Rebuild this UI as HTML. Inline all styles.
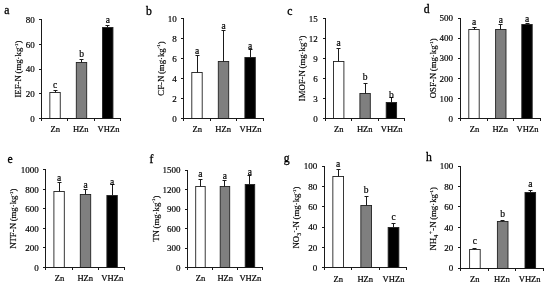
<!DOCTYPE html>
<html><head><meta charset="utf-8"><title>Figure</title>
<style>
html,body{margin:0;padding:0;background:#fff;}
svg{display:block;font-family:"Liberation Serif","DejaVu Serif",serif;fill:#000;}
text{stroke:#000;stroke-width:0.18px;}
</style></head><body>
<svg width="550" height="286" viewBox="0 0 550 286">
<rect x="0" y="0" width="550" height="286" fill="#fff"/>
<text x="4.30" y="14.00" font-size="11.7" text-anchor="start" style="stroke-width:0.3px">a</text>
<rect x="49.85" y="92.50" width="10.40" height="26.00" fill="#ffffff" stroke="#222" stroke-width="0.9"/>
<line x1="55.50" y1="92.50" x2="55.50" y2="91.00" stroke="#1a1a1a" stroke-width="1.0"/>
<line x1="53.50" y1="90.50" x2="57.50" y2="90.50" stroke="#1a1a1a" stroke-width="1.0"/>
<text x="55.05" y="88.19" font-size="9.5" text-anchor="middle" >c</text>
<text x="55.20" y="132.20" font-size="8.6" text-anchor="middle" >Zn</text>
<rect x="76.30" y="62.50" width="10.40" height="56.00" fill="#7f7f7f" stroke="#222" stroke-width="0.9"/>
<line x1="81.50" y1="62.50" x2="81.50" y2="60.00" stroke="#1a1a1a" stroke-width="1.0"/>
<line x1="79.50" y1="59.50" x2="83.50" y2="59.50" stroke="#1a1a1a" stroke-width="1.0"/>
<text x="81.50" y="56.64" font-size="9.5" text-anchor="middle" >b</text>
<text x="80.80" y="132.20" font-size="8.6" text-anchor="middle" >HZn</text>
<rect x="102.55" y="27.50" width="10.40" height="91.00" fill="#000000" stroke="#222" stroke-width="0.9"/>
<line x1="107.50" y1="27.50" x2="107.50" y2="26.00" stroke="#1a1a1a" stroke-width="1.0"/>
<line x1="105.50" y1="25.50" x2="109.50" y2="25.50" stroke="#1a1a1a" stroke-width="1.0"/>
<text x="107.75" y="22.70" font-size="9.5" text-anchor="middle" >a</text>
<text x="108.50" y="132.20" font-size="8.6" text-anchor="middle" >VHZn</text>
<line x1="41.50" y1="19.00" x2="41.50" y2="121.00" stroke="#1a1a1a" stroke-width="1.0"/>
<line x1="39.00" y1="118.50" x2="121.00" y2="118.50" stroke="#1a1a1a" stroke-width="1.0"/>
<line x1="41.50" y1="118.50" x2="41.50" y2="121.00" stroke="#1a1a1a" stroke-width="1.0"/>
<line x1="67.50" y1="118.50" x2="67.50" y2="121.00" stroke="#1a1a1a" stroke-width="1.0"/>
<line x1="94.50" y1="118.50" x2="94.50" y2="121.00" stroke="#1a1a1a" stroke-width="1.0"/>
<line x1="120.50" y1="118.50" x2="120.50" y2="121.00" stroke="#1a1a1a" stroke-width="1.0"/>
<line x1="39.00" y1="118.50" x2="41.50" y2="118.50" stroke="#1a1a1a" stroke-width="1.0"/>
<text x="34.70" y="121.70" font-size="9" text-anchor="end" >0</text>
<line x1="39.00" y1="93.50" x2="41.50" y2="93.50" stroke="#1a1a1a" stroke-width="1.0"/>
<text x="34.70" y="97.00" font-size="9" text-anchor="end" >20</text>
<line x1="39.00" y1="69.50" x2="41.50" y2="69.50" stroke="#1a1a1a" stroke-width="1.0"/>
<text x="34.70" y="72.30" font-size="9" text-anchor="end" >40</text>
<line x1="39.00" y1="44.50" x2="41.50" y2="44.50" stroke="#1a1a1a" stroke-width="1.0"/>
<text x="34.70" y="47.60" font-size="9" text-anchor="end" >60</text>
<line x1="39.00" y1="19.50" x2="41.50" y2="19.50" stroke="#1a1a1a" stroke-width="1.0"/>
<text x="34.70" y="22.90" font-size="9" text-anchor="end" >80</text>
<text x="21.10" y="69.10" font-size="8.75" text-anchor="middle" word-spacing="-0.5" transform="rotate(-90 21.10 69.10)">IEF-N (mg·kg<tspan dy="-3.4" font-size="5">-1</tspan><tspan dy="3.4">)</tspan></text>
<text x="146.00" y="14.60" font-size="11.7" text-anchor="start" style="stroke-width:0.3px">b</text>
<rect x="191.80" y="72.50" width="10.40" height="46.00" fill="#ffffff" stroke="#222" stroke-width="0.9"/>
<line x1="197.50" y1="72.50" x2="197.50" y2="55.00" stroke="#1a1a1a" stroke-width="1.0"/>
<line x1="195.50" y1="55.50" x2="199.50" y2="55.50" stroke="#1a1a1a" stroke-width="1.0"/>
<text x="197.00" y="54.34" font-size="9.5" text-anchor="middle" >a</text>
<text x="197.20" y="132.20" font-size="8.6" text-anchor="middle" >Zn</text>
<rect x="218.30" y="61.50" width="10.40" height="57.00" fill="#7f7f7f" stroke="#222" stroke-width="0.9"/>
<line x1="223.50" y1="61.50" x2="223.50" y2="30.00" stroke="#1a1a1a" stroke-width="1.0"/>
<line x1="221.50" y1="30.50" x2="225.50" y2="30.50" stroke="#1a1a1a" stroke-width="1.0"/>
<text x="223.50" y="29.01" font-size="9.5" text-anchor="middle" >a</text>
<text x="223.20" y="132.20" font-size="8.6" text-anchor="middle" >HZn</text>
<rect x="244.90" y="57.50" width="10.40" height="61.00" fill="#000000" stroke="#222" stroke-width="0.9"/>
<line x1="250.50" y1="57.50" x2="250.50" y2="50.00" stroke="#1a1a1a" stroke-width="1.0"/>
<line x1="248.50" y1="49.50" x2="252.50" y2="49.50" stroke="#1a1a1a" stroke-width="1.0"/>
<text x="250.10" y="49.23" font-size="9.5" text-anchor="middle" >a</text>
<text x="250.50" y="132.20" font-size="8.6" text-anchor="middle" >VHZn</text>
<line x1="183.50" y1="18.00" x2="183.50" y2="121.00" stroke="#1a1a1a" stroke-width="1.0"/>
<line x1="181.00" y1="118.50" x2="264.00" y2="118.50" stroke="#1a1a1a" stroke-width="1.0"/>
<line x1="183.50" y1="118.50" x2="183.50" y2="121.00" stroke="#1a1a1a" stroke-width="1.0"/>
<line x1="210.50" y1="118.50" x2="210.50" y2="121.00" stroke="#1a1a1a" stroke-width="1.0"/>
<line x1="236.50" y1="118.50" x2="236.50" y2="121.00" stroke="#1a1a1a" stroke-width="1.0"/>
<line x1="263.50" y1="118.50" x2="263.50" y2="121.00" stroke="#1a1a1a" stroke-width="1.0"/>
<line x1="181.00" y1="118.50" x2="183.50" y2="118.50" stroke="#1a1a1a" stroke-width="1.0"/>
<text x="176.80" y="121.70" font-size="9" text-anchor="end" >0</text>
<line x1="181.00" y1="98.50" x2="183.50" y2="98.50" stroke="#1a1a1a" stroke-width="1.0"/>
<text x="176.80" y="101.68" font-size="9" text-anchor="end" >2</text>
<line x1="181.00" y1="78.50" x2="183.50" y2="78.50" stroke="#1a1a1a" stroke-width="1.0"/>
<text x="176.80" y="81.66" font-size="9" text-anchor="end" >4</text>
<line x1="181.00" y1="58.50" x2="183.50" y2="58.50" stroke="#1a1a1a" stroke-width="1.0"/>
<text x="176.80" y="61.64" font-size="9" text-anchor="end" >6</text>
<line x1="181.00" y1="38.50" x2="183.50" y2="38.50" stroke="#1a1a1a" stroke-width="1.0"/>
<text x="176.80" y="41.62" font-size="9" text-anchor="end" >8</text>
<line x1="181.00" y1="18.50" x2="183.50" y2="18.50" stroke="#1a1a1a" stroke-width="1.0"/>
<text x="176.80" y="21.60" font-size="9" text-anchor="end" >10</text>
<text x="163.80" y="68.45" font-size="8.75" text-anchor="middle" word-spacing="-0.5" transform="rotate(-90 163.80 68.45)">CF-N (mg·kg<tspan dy="-3.4" font-size="5">-1</tspan><tspan dy="3.4">)</tspan></text>
<text x="287.30" y="14.70" font-size="11.7" text-anchor="start" style="stroke-width:0.3px">c</text>
<rect x="333.50" y="61.50" width="10.40" height="57.00" fill="#ffffff" stroke="#222" stroke-width="0.9"/>
<line x1="338.50" y1="61.50" x2="338.50" y2="48.00" stroke="#1a1a1a" stroke-width="1.0"/>
<line x1="336.50" y1="48.50" x2="340.50" y2="48.50" stroke="#1a1a1a" stroke-width="1.0"/>
<text x="338.70" y="46.03" font-size="9.5" text-anchor="middle" >a</text>
<text x="338.70" y="132.20" font-size="8.6" text-anchor="middle" >Zn</text>
<rect x="359.90" y="93.50" width="10.40" height="25.00" fill="#7f7f7f" stroke="#222" stroke-width="0.9"/>
<line x1="365.50" y1="93.50" x2="365.50" y2="83.00" stroke="#1a1a1a" stroke-width="1.0"/>
<line x1="363.50" y1="83.50" x2="367.50" y2="83.50" stroke="#1a1a1a" stroke-width="1.0"/>
<text x="365.10" y="79.86" font-size="9.5" text-anchor="middle" >b</text>
<text x="364.80" y="132.20" font-size="8.6" text-anchor="middle" >HZn</text>
<rect x="386.20" y="102.50" width="10.40" height="16.00" fill="#000000" stroke="#222" stroke-width="0.9"/>
<line x1="391.50" y1="102.50" x2="391.50" y2="98.00" stroke="#1a1a1a" stroke-width="1.0"/>
<line x1="389.50" y1="97.50" x2="393.50" y2="97.50" stroke="#1a1a1a" stroke-width="1.0"/>
<text x="391.40" y="97.71" font-size="9.5" text-anchor="middle" >b</text>
<text x="391.70" y="132.20" font-size="8.6" text-anchor="middle" >VHZn</text>
<line x1="325.50" y1="18.00" x2="325.50" y2="121.00" stroke="#1a1a1a" stroke-width="1.0"/>
<line x1="323.00" y1="118.50" x2="405.00" y2="118.50" stroke="#1a1a1a" stroke-width="1.0"/>
<line x1="325.50" y1="118.50" x2="325.50" y2="121.00" stroke="#1a1a1a" stroke-width="1.0"/>
<line x1="351.50" y1="118.50" x2="351.50" y2="121.00" stroke="#1a1a1a" stroke-width="1.0"/>
<line x1="378.50" y1="118.50" x2="378.50" y2="121.00" stroke="#1a1a1a" stroke-width="1.0"/>
<line x1="404.50" y1="118.50" x2="404.50" y2="121.00" stroke="#1a1a1a" stroke-width="1.0"/>
<line x1="323.00" y1="118.50" x2="325.50" y2="118.50" stroke="#1a1a1a" stroke-width="1.0"/>
<text x="317.70" y="121.70" font-size="9" text-anchor="end" >0</text>
<line x1="323.00" y1="98.50" x2="325.50" y2="98.50" stroke="#1a1a1a" stroke-width="1.0"/>
<text x="317.70" y="101.68" font-size="9" text-anchor="end" >3</text>
<line x1="323.00" y1="78.50" x2="325.50" y2="78.50" stroke="#1a1a1a" stroke-width="1.0"/>
<text x="317.70" y="81.66" font-size="9" text-anchor="end" >6</text>
<line x1="323.00" y1="58.50" x2="325.50" y2="58.50" stroke="#1a1a1a" stroke-width="1.0"/>
<text x="317.70" y="61.64" font-size="9" text-anchor="end" >9</text>
<line x1="323.00" y1="38.50" x2="325.50" y2="38.50" stroke="#1a1a1a" stroke-width="1.0"/>
<text x="317.70" y="41.62" font-size="9" text-anchor="end" >12</text>
<line x1="323.00" y1="18.50" x2="325.50" y2="18.50" stroke="#1a1a1a" stroke-width="1.0"/>
<text x="317.70" y="21.60" font-size="9" text-anchor="end" >15</text>
<text x="305.50" y="68.45" font-size="8.75" text-anchor="middle" word-spacing="-0.5" transform="rotate(-90 305.50 68.45)">IMOF-N (mg·kg<tspan dy="-3.4" font-size="5">-1</tspan><tspan dy="3.4">)</tspan></text>
<text x="423.80" y="12.50" font-size="11.7" text-anchor="start" style="stroke-width:0.3px">d</text>
<rect x="468.80" y="29.50" width="10.40" height="89.00" fill="#ffffff" stroke="#222" stroke-width="0.9"/>
<line x1="474.50" y1="29.50" x2="474.50" y2="28.00" stroke="#1a1a1a" stroke-width="1.0"/>
<line x1="472.50" y1="27.50" x2="476.50" y2="27.50" stroke="#1a1a1a" stroke-width="1.0"/>
<text x="474.00" y="25.34" font-size="9.5" text-anchor="middle" >a</text>
<text x="474.50" y="132.20" font-size="8.6" text-anchor="middle" >Zn</text>
<rect x="495.60" y="29.50" width="10.40" height="89.00" fill="#7f7f7f" stroke="#222" stroke-width="0.9"/>
<line x1="500.50" y1="29.50" x2="500.50" y2="25.00" stroke="#1a1a1a" stroke-width="1.0"/>
<line x1="498.50" y1="24.50" x2="502.50" y2="24.50" stroke="#1a1a1a" stroke-width="1.0"/>
<text x="500.80" y="22.53" font-size="9.5" text-anchor="middle" >a</text>
<text x="500.30" y="132.20" font-size="8.6" text-anchor="middle" >HZn</text>
<rect x="521.80" y="24.50" width="10.40" height="94.00" fill="#000000" stroke="#222" stroke-width="0.9"/>
<line x1="527.50" y1="24.50" x2="527.50" y2="23.00" stroke="#1a1a1a" stroke-width="1.0"/>
<line x1="525.50" y1="23.50" x2="529.50" y2="23.50" stroke="#1a1a1a" stroke-width="1.0"/>
<text x="527.00" y="21.52" font-size="9.5" text-anchor="middle" >a</text>
<text x="527.50" y="132.20" font-size="8.6" text-anchor="middle" >VHZn</text>
<line x1="460.50" y1="18.00" x2="460.50" y2="121.00" stroke="#1a1a1a" stroke-width="1.0"/>
<line x1="458.00" y1="118.50" x2="541.00" y2="118.50" stroke="#1a1a1a" stroke-width="1.0"/>
<line x1="460.50" y1="118.50" x2="460.50" y2="121.00" stroke="#1a1a1a" stroke-width="1.0"/>
<line x1="487.50" y1="118.50" x2="487.50" y2="121.00" stroke="#1a1a1a" stroke-width="1.0"/>
<line x1="513.50" y1="118.50" x2="513.50" y2="121.00" stroke="#1a1a1a" stroke-width="1.0"/>
<line x1="540.50" y1="118.50" x2="540.50" y2="121.00" stroke="#1a1a1a" stroke-width="1.0"/>
<line x1="458.00" y1="118.50" x2="460.50" y2="118.50" stroke="#1a1a1a" stroke-width="1.0"/>
<text x="453.00" y="121.70" font-size="9" text-anchor="end" >0</text>
<line x1="458.00" y1="98.50" x2="460.50" y2="98.50" stroke="#1a1a1a" stroke-width="1.0"/>
<text x="453.00" y="101.62" font-size="9" text-anchor="end" >100</text>
<line x1="458.00" y1="78.50" x2="460.50" y2="78.50" stroke="#1a1a1a" stroke-width="1.0"/>
<text x="453.00" y="81.54" font-size="9" text-anchor="end" >200</text>
<line x1="458.00" y1="58.50" x2="460.50" y2="58.50" stroke="#1a1a1a" stroke-width="1.0"/>
<text x="453.00" y="61.46" font-size="9" text-anchor="end" >300</text>
<line x1="458.00" y1="38.50" x2="460.50" y2="38.50" stroke="#1a1a1a" stroke-width="1.0"/>
<text x="453.00" y="41.38" font-size="9" text-anchor="end" >400</text>
<line x1="458.00" y1="18.50" x2="460.50" y2="18.50" stroke="#1a1a1a" stroke-width="1.0"/>
<text x="453.00" y="21.30" font-size="9" text-anchor="end" >500</text>
<text x="436.20" y="68.30" font-size="8.75" text-anchor="middle" word-spacing="-0.5" transform="rotate(-90 436.20 68.30)">OSF-N (mg·kg<tspan dy="-3.4" font-size="5">-1</tspan><tspan dy="3.4">)</tspan></text>
<text x="7.40" y="162.50" font-size="11.7" text-anchor="start" style="stroke-width:0.3px">e</text>
<rect x="53.90" y="191.50" width="10.40" height="76.00" fill="#ffffff" stroke="#222" stroke-width="0.9"/>
<line x1="59.50" y1="191.50" x2="59.50" y2="183.00" stroke="#1a1a1a" stroke-width="1.0"/>
<line x1="57.50" y1="182.50" x2="61.50" y2="182.50" stroke="#1a1a1a" stroke-width="1.0"/>
<text x="59.10" y="180.80" font-size="9.5" text-anchor="middle" >a</text>
<text x="59.50" y="281.20" font-size="8.6" text-anchor="middle" >Zn</text>
<rect x="80.30" y="194.50" width="10.40" height="73.00" fill="#7f7f7f" stroke="#222" stroke-width="0.9"/>
<line x1="85.50" y1="194.50" x2="85.50" y2="189.00" stroke="#1a1a1a" stroke-width="1.0"/>
<line x1="83.50" y1="189.50" x2="87.50" y2="189.50" stroke="#1a1a1a" stroke-width="1.0"/>
<text x="85.50" y="188.04" font-size="9.5" text-anchor="middle" >a</text>
<text x="85.30" y="281.20" font-size="8.6" text-anchor="middle" >HZn</text>
<rect x="106.90" y="195.50" width="10.40" height="72.00" fill="#000000" stroke="#222" stroke-width="0.9"/>
<line x1="112.50" y1="195.50" x2="112.50" y2="185.00" stroke="#1a1a1a" stroke-width="1.0"/>
<line x1="110.50" y1="184.50" x2="114.50" y2="184.50" stroke="#1a1a1a" stroke-width="1.0"/>
<text x="112.10" y="184.65" font-size="9.5" text-anchor="middle" >a</text>
<text x="112.30" y="281.20" font-size="8.6" text-anchor="middle" >VHZn</text>
<line x1="45.50" y1="169.00" x2="45.50" y2="270.00" stroke="#1a1a1a" stroke-width="1.0"/>
<line x1="43.00" y1="267.50" x2="125.00" y2="267.50" stroke="#1a1a1a" stroke-width="1.0"/>
<line x1="45.50" y1="267.50" x2="45.50" y2="270.00" stroke="#1a1a1a" stroke-width="1.0"/>
<line x1="72.50" y1="267.50" x2="72.50" y2="270.00" stroke="#1a1a1a" stroke-width="1.0"/>
<line x1="98.50" y1="267.50" x2="98.50" y2="270.00" stroke="#1a1a1a" stroke-width="1.0"/>
<line x1="124.50" y1="267.50" x2="124.50" y2="270.00" stroke="#1a1a1a" stroke-width="1.0"/>
<line x1="43.00" y1="267.50" x2="45.50" y2="267.50" stroke="#1a1a1a" stroke-width="1.0"/>
<text x="38.70" y="270.70" font-size="9" text-anchor="end" >0</text>
<line x1="43.00" y1="247.50" x2="45.50" y2="247.50" stroke="#1a1a1a" stroke-width="1.0"/>
<text x="38.70" y="251.16" font-size="9" text-anchor="end" >200</text>
<line x1="43.00" y1="228.50" x2="45.50" y2="228.50" stroke="#1a1a1a" stroke-width="1.0"/>
<text x="38.70" y="231.62" font-size="9" text-anchor="end" >400</text>
<line x1="43.00" y1="208.50" x2="45.50" y2="208.50" stroke="#1a1a1a" stroke-width="1.0"/>
<text x="38.70" y="212.08" font-size="9" text-anchor="end" >600</text>
<line x1="43.00" y1="189.50" x2="45.50" y2="189.50" stroke="#1a1a1a" stroke-width="1.0"/>
<text x="38.70" y="192.54" font-size="9" text-anchor="end" >800</text>
<line x1="43.00" y1="169.50" x2="45.50" y2="169.50" stroke="#1a1a1a" stroke-width="1.0"/>
<text x="38.70" y="173.00" font-size="9" text-anchor="end" >1000</text>
<text x="16.40" y="218.65" font-size="8.75" text-anchor="middle" word-spacing="-0.5" transform="rotate(-90 16.40 218.65)">NTF-N (mg·kg<tspan dy="-3.4" font-size="5">-1</tspan><tspan dy="3.4">)</tspan></text>
<text x="149.50" y="162.70" font-size="11.7" text-anchor="start" style="stroke-width:0.3px">f</text>
<rect x="195.70" y="186.50" width="9.50" height="81.00" fill="#ffffff" stroke="#222" stroke-width="0.9"/>
<line x1="200.50" y1="186.50" x2="200.50" y2="180.00" stroke="#1a1a1a" stroke-width="1.0"/>
<line x1="198.50" y1="179.50" x2="202.50" y2="179.50" stroke="#1a1a1a" stroke-width="1.0"/>
<text x="200.45" y="177.16" font-size="9.5" text-anchor="middle" >a</text>
<text x="200.60" y="281.20" font-size="8.6" text-anchor="middle" >Zn</text>
<rect x="220.20" y="186.50" width="9.50" height="81.00" fill="#7f7f7f" stroke="#222" stroke-width="0.9"/>
<line x1="224.50" y1="186.50" x2="224.50" y2="181.00" stroke="#1a1a1a" stroke-width="1.0"/>
<line x1="222.50" y1="180.50" x2="226.50" y2="180.50" stroke="#1a1a1a" stroke-width="1.0"/>
<text x="224.95" y="178.83" font-size="9.5" text-anchor="middle" >a</text>
<text x="225.30" y="281.20" font-size="8.6" text-anchor="middle" >HZn</text>
<rect x="245.20" y="184.50" width="9.50" height="83.00" fill="#000000" stroke="#222" stroke-width="0.9"/>
<line x1="249.50" y1="184.50" x2="249.50" y2="176.00" stroke="#1a1a1a" stroke-width="1.0"/>
<line x1="247.50" y1="175.50" x2="251.50" y2="175.50" stroke="#1a1a1a" stroke-width="1.0"/>
<text x="249.95" y="174.69" font-size="9.5" text-anchor="middle" >a</text>
<text x="250.40" y="281.20" font-size="8.6" text-anchor="middle" >VHZn</text>
<line x1="187.50" y1="170.00" x2="187.50" y2="270.00" stroke="#1a1a1a" stroke-width="1.0"/>
<line x1="185.00" y1="267.50" x2="263.00" y2="267.50" stroke="#1a1a1a" stroke-width="1.0"/>
<line x1="187.50" y1="267.50" x2="187.50" y2="270.00" stroke="#1a1a1a" stroke-width="1.0"/>
<line x1="212.50" y1="267.50" x2="212.50" y2="270.00" stroke="#1a1a1a" stroke-width="1.0"/>
<line x1="237.50" y1="267.50" x2="237.50" y2="270.00" stroke="#1a1a1a" stroke-width="1.0"/>
<line x1="262.50" y1="267.50" x2="262.50" y2="270.00" stroke="#1a1a1a" stroke-width="1.0"/>
<line x1="185.00" y1="267.50" x2="187.50" y2="267.50" stroke="#1a1a1a" stroke-width="1.0"/>
<text x="180.60" y="270.70" font-size="9" text-anchor="end" >0</text>
<line x1="185.00" y1="248.50" x2="187.50" y2="248.50" stroke="#1a1a1a" stroke-width="1.0"/>
<text x="180.60" y="251.20" font-size="9" text-anchor="end" >300</text>
<line x1="185.00" y1="228.50" x2="187.50" y2="228.50" stroke="#1a1a1a" stroke-width="1.0"/>
<text x="180.60" y="231.70" font-size="9" text-anchor="end" >600</text>
<line x1="185.00" y1="209.50" x2="187.50" y2="209.50" stroke="#1a1a1a" stroke-width="1.0"/>
<text x="180.60" y="212.20" font-size="9" text-anchor="end" >900</text>
<line x1="185.00" y1="189.50" x2="187.50" y2="189.50" stroke="#1a1a1a" stroke-width="1.0"/>
<text x="180.60" y="192.70" font-size="9" text-anchor="end" >1200</text>
<line x1="185.00" y1="170.50" x2="187.50" y2="170.50" stroke="#1a1a1a" stroke-width="1.0"/>
<text x="180.60" y="173.20" font-size="9" text-anchor="end" >1500</text>
<text x="158.50" y="218.75" font-size="8.75" text-anchor="middle" word-spacing="-0.5" transform="rotate(-90 158.50 218.75)">TN (mg·kg<tspan dy="-3.4" font-size="5">-1</tspan><tspan dy="3.4">)</tspan></text>
<text x="283.80" y="161.80" font-size="11.7" text-anchor="start" style="stroke-width:0.3px">g</text>
<rect x="332.85" y="176.50" width="10.70" height="91.00" fill="#ffffff" stroke="#222" stroke-width="0.9"/>
<line x1="338.50" y1="176.50" x2="338.50" y2="169.00" stroke="#1a1a1a" stroke-width="1.0"/>
<line x1="336.50" y1="169.50" x2="340.50" y2="169.50" stroke="#1a1a1a" stroke-width="1.0"/>
<text x="338.20" y="166.86" font-size="9.5" text-anchor="middle" >a</text>
<text x="338.20" y="281.50" font-size="8.6" text-anchor="middle" >Zn</text>
<rect x="360.85" y="205.50" width="10.70" height="62.00" fill="#7f7f7f" stroke="#222" stroke-width="0.9"/>
<line x1="366.50" y1="205.50" x2="366.50" y2="197.00" stroke="#1a1a1a" stroke-width="1.0"/>
<line x1="364.50" y1="196.50" x2="368.50" y2="196.50" stroke="#1a1a1a" stroke-width="1.0"/>
<text x="366.20" y="193.44" font-size="9.5" text-anchor="middle" >b</text>
<text x="365.30" y="281.50" font-size="8.6" text-anchor="middle" >HZn</text>
<rect x="388.15" y="227.50" width="10.70" height="40.00" fill="#000000" stroke="#222" stroke-width="0.9"/>
<line x1="393.50" y1="227.50" x2="393.50" y2="223.00" stroke="#1a1a1a" stroke-width="1.0"/>
<line x1="391.50" y1="223.50" x2="395.50" y2="223.50" stroke="#1a1a1a" stroke-width="1.0"/>
<text x="393.50" y="220.42" font-size="9.5" text-anchor="middle" >c</text>
<text x="393.60" y="281.50" font-size="8.6" text-anchor="middle" >VHZn</text>
<line x1="324.50" y1="166.00" x2="324.50" y2="270.00" stroke="#1a1a1a" stroke-width="1.0"/>
<line x1="322.00" y1="267.50" x2="407.00" y2="267.50" stroke="#1a1a1a" stroke-width="1.0"/>
<line x1="324.50" y1="267.50" x2="324.50" y2="270.00" stroke="#1a1a1a" stroke-width="1.0"/>
<line x1="351.50" y1="267.50" x2="351.50" y2="270.00" stroke="#1a1a1a" stroke-width="1.0"/>
<line x1="379.50" y1="267.50" x2="379.50" y2="270.00" stroke="#1a1a1a" stroke-width="1.0"/>
<line x1="406.50" y1="267.50" x2="406.50" y2="270.00" stroke="#1a1a1a" stroke-width="1.0"/>
<line x1="322.00" y1="267.50" x2="324.50" y2="267.50" stroke="#1a1a1a" stroke-width="1.0"/>
<text x="317.30" y="271.00" font-size="9" text-anchor="end" >0</text>
<line x1="322.00" y1="247.50" x2="324.50" y2="247.50" stroke="#1a1a1a" stroke-width="1.0"/>
<text x="317.30" y="250.64" font-size="9" text-anchor="end" >20</text>
<line x1="322.00" y1="227.50" x2="324.50" y2="227.50" stroke="#1a1a1a" stroke-width="1.0"/>
<text x="317.30" y="230.28" font-size="9" text-anchor="end" >40</text>
<line x1="322.00" y1="206.50" x2="324.50" y2="206.50" stroke="#1a1a1a" stroke-width="1.0"/>
<text x="317.30" y="209.92" font-size="9" text-anchor="end" >60</text>
<line x1="322.00" y1="186.50" x2="324.50" y2="186.50" stroke="#1a1a1a" stroke-width="1.0"/>
<text x="317.30" y="189.56" font-size="9" text-anchor="end" >80</text>
<line x1="322.00" y1="166.50" x2="324.50" y2="166.50" stroke="#1a1a1a" stroke-width="1.0"/>
<text x="317.30" y="169.20" font-size="9" text-anchor="end" >100</text>
<text x="299.30" y="217.50" font-size="8.75" text-anchor="middle" word-spacing="-0.5" transform="rotate(-90 299.30 217.50)">NO<tspan dy="1.8" dx="0.2" font-size="5.8">3</tspan><tspan dy="-5" dx="0.3" font-size="5.8">-</tspan><tspan dy="3.2" dx="0.2">-N</tspan> (mg·kg<tspan dy="-3.4" font-size="5">-1</tspan><tspan dy="3.4">)</tspan></text>
<text x="425.90" y="161.40" font-size="11.7" text-anchor="start" style="stroke-width:0.3px">h</text>
<rect x="469.60" y="249.50" width="10.60" height="19.00" fill="#ffffff" stroke="#222" stroke-width="0.9"/>
<line x1="474.50" y1="249.50" x2="474.50" y2="249.00" stroke="#1a1a1a" stroke-width="1.0"/>
<line x1="472.50" y1="248.50" x2="476.50" y2="248.50" stroke="#1a1a1a" stroke-width="1.0"/>
<text x="474.90" y="244.14" font-size="9.5" text-anchor="middle" >c</text>
<text x="474.70" y="281.80" font-size="8.6" text-anchor="middle" >Zn</text>
<rect x="497.40" y="221.50" width="10.60" height="47.00" fill="#7f7f7f" stroke="#222" stroke-width="0.9"/>
<line x1="502.50" y1="221.50" x2="502.50" y2="221.00" stroke="#1a1a1a" stroke-width="1.0"/>
<line x1="500.50" y1="220.50" x2="504.50" y2="220.50" stroke="#1a1a1a" stroke-width="1.0"/>
<text x="502.70" y="216.52" font-size="9.5" text-anchor="middle" >b</text>
<text x="502.00" y="281.80" font-size="8.6" text-anchor="middle" >HZn</text>
<rect x="525.00" y="192.50" width="10.60" height="76.00" fill="#000000" stroke="#222" stroke-width="0.9"/>
<line x1="530.50" y1="192.50" x2="530.50" y2="191.00" stroke="#1a1a1a" stroke-width="1.0"/>
<line x1="528.50" y1="190.50" x2="532.50" y2="190.50" stroke="#1a1a1a" stroke-width="1.0"/>
<text x="530.30" y="187.36" font-size="9.5" text-anchor="middle" >a</text>
<text x="529.70" y="281.80" font-size="8.6" text-anchor="middle" >VHZn</text>
<line x1="460.50" y1="166.00" x2="460.50" y2="271.00" stroke="#1a1a1a" stroke-width="1.0"/>
<line x1="458.00" y1="268.50" x2="544.00" y2="268.50" stroke="#1a1a1a" stroke-width="1.0"/>
<line x1="460.50" y1="268.50" x2="460.50" y2="271.00" stroke="#1a1a1a" stroke-width="1.0"/>
<line x1="488.50" y1="268.50" x2="488.50" y2="271.00" stroke="#1a1a1a" stroke-width="1.0"/>
<line x1="515.50" y1="268.50" x2="515.50" y2="271.00" stroke="#1a1a1a" stroke-width="1.0"/>
<line x1="543.50" y1="268.50" x2="543.50" y2="271.00" stroke="#1a1a1a" stroke-width="1.0"/>
<line x1="458.00" y1="268.50" x2="460.50" y2="268.50" stroke="#1a1a1a" stroke-width="1.0"/>
<text x="453.30" y="271.30" font-size="9" text-anchor="end" >0</text>
<line x1="458.00" y1="247.50" x2="460.50" y2="247.50" stroke="#1a1a1a" stroke-width="1.0"/>
<text x="453.30" y="250.92" font-size="9" text-anchor="end" >20</text>
<line x1="458.00" y1="227.50" x2="460.50" y2="227.50" stroke="#1a1a1a" stroke-width="1.0"/>
<text x="453.30" y="230.54" font-size="9" text-anchor="end" >40</text>
<line x1="458.00" y1="206.50" x2="460.50" y2="206.50" stroke="#1a1a1a" stroke-width="1.0"/>
<text x="453.30" y="210.16" font-size="9" text-anchor="end" >60</text>
<line x1="458.00" y1="186.50" x2="460.50" y2="186.50" stroke="#1a1a1a" stroke-width="1.0"/>
<text x="453.30" y="189.78" font-size="9" text-anchor="end" >80</text>
<line x1="458.00" y1="166.50" x2="460.50" y2="166.50" stroke="#1a1a1a" stroke-width="1.0"/>
<text x="453.30" y="169.40" font-size="9" text-anchor="end" >100</text>
<text x="436.30" y="218.80" font-size="8.75" text-anchor="middle" word-spacing="-0.5" transform="rotate(-90 436.30 218.80)">NH<tspan dy="1.8" dx="0.3" font-size="5.8">4</tspan><tspan dy="-5" dx="0.4" font-size="5.8">+</tspan><tspan dy="3.2" dx="0.3">-N</tspan> (mg·kg<tspan dy="-3.4" font-size="5">-1</tspan><tspan dy="3.4">)</tspan></text>
</svg>
</body></html>
